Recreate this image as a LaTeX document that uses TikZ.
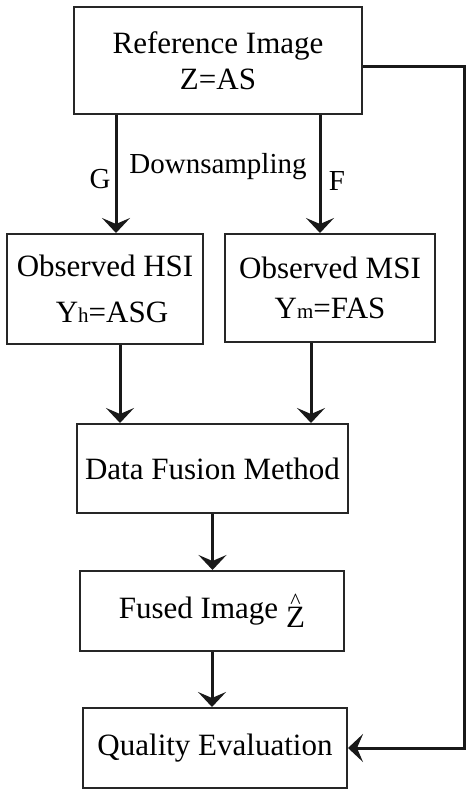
\documentclass[tikz,border=0pt]{standalone}
\usepackage{fontspec}
\setmainfont{Liberation Serif}
\usetikzlibrary{arrows.meta}
\tikzset{
  box/.style={draw=black!85, line width=2pt, align=center, inner sep=0pt,
    font=\fontsize{31}{36}\selectfont},
  arr/.style={-{Stealth[length=15pt,width=28pt,inset=6pt]}, line width=3pt, draw=black!90},
  lbl/.style={anchor=base, inner sep=0pt, font=\fontsize{29}{32}\selectfont}
}
\newcommand{\smallsub}[1]{{\fontsize{21}{21}\selectfont #1}}

\begin{document}
\begin{tikzpicture}[x=1pt, y=-1pt]
  \useasboundingbox (0,0) rectangle (474,796);
  \node[box, minimum width=288pt, minimum height=107pt] (ref) at (218,60.5) {Reference Image\\Z=AS};
  \node[box, minimum width=196pt, minimum height=110pt] (hsi) at (105,289) {Observed HSI\\[10pt]\hspace*{14pt}Y\smallsub{h}=ASG};
  \node[box, minimum width=210pt, minimum height=108pt] (msi) at (330,288) {Observed MSI\\[4pt]Y\smallsub{m}=FAS};
  \node[box, minimum width=271pt, minimum height=89pt] (dfm) at (212.5,468.5) {Data Fusion Method};
  \node[box, minimum width=264pt, minimum height=80pt] (fused) at (212,611)
    {Fused Image \makebox[0.62em]{\raisebox{-9pt}{Z}}\llap{\makebox[0.62em]{\raisebox{10pt}{\fontsize{22}{22}\selectfont\textasciicircum}}}};
  \node[box, minimum width=264pt, minimum height=80pt] (qe) at (215,748) {Quality Evaluation};

  % downsampling labels
  \node[lbl] (g) at (100,188) {G};
  \node[lbl] (down) at (218,173) {Downsampling};
  \node[lbl] (f) at (337,190) {F};

  \draw[arr] ([xshift=43pt]ref.south west) -- ([xshift=43pt]ref.south west |- hsi.north);
  \draw[arr] ([xshift=247pt]ref.south west) -- ([xshift=247pt]ref.south west |- msi.north);
  \draw[arr] ([xshift=114pt]hsi.south west) -- ([xshift=114pt]hsi.south west |- dfm.north);
  \draw[arr] ([xshift=87pt]msi.south west) -- ([xshift=87pt]msi.south west |- dfm.north);
  \draw[arr] (dfm.south) -- (dfm.south |- fused.north);
  \draw[arr] (fused.south) -- (fused.south |- qe.north);

  % feedback to evaluation
  \coordinate (fb) at (464,66);
  \draw[arr] (ref.east |- fb) -- (fb) |- (qe.east);
\end{tikzpicture}
\end{document}
